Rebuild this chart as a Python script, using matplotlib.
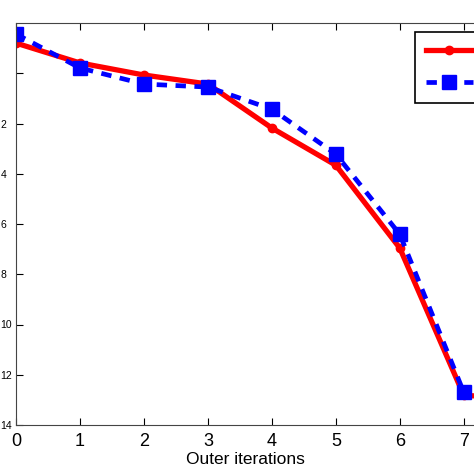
import matplotlib
matplotlib.use("Agg")
import matplotlib.pyplot as plt

plt.rcParams['font.family'] = ['Liberation Sans', 'DejaVu Sans']

# outer iteration index
iters = [0, 1, 2, 3, 4, 5, 6, 7, 8]
iters_b = [0, 1, 2, 3, 4, 5, 6, 7]
# log10 of the error
err_a = [1.20, 0.41, -0.07, -0.43, -2.18, -3.66, -6.96, -12.82, -12.95]
err_b = [1.56, 0.21, -0.43, -0.55, -1.43, -3.22, -6.41, -12.70]

yticks = [-14, -12, -10, -8, -6, -4, -2, 0]
ytick_labels = ['14', '12', '10', '8', '6', '4', '2', '']
xticks = [0, 1, 2, 3, 4, 5, 6, 7]

fig = plt.figure(figsize=(4.74, 4.74), dpi=100)
ax = fig.add_axes([16/474, 49/474, 1 - 16/474, (425 - 23)/474])

# legend text lies outside the visible crop, so keep it blank
ax.plot(iters, err_a, color='red', lw=3.8, marker='o', ms=6, label=' ')
ax.plot(iters_b, err_b, color='blue', lw=3.4, ls=(0, (2.2, 1.8)),
        marker='s', ms=10, label=' ')

ax.set_xlim(0, 7.16)
ax.set_ylim(-14, 2)
ax.set_xticks(xticks)
ax.set_yticks(yticks)
ax.set_yticklabels(ytick_labels)
ax.tick_params(axis='x', labelsize=13, direction='in', length=5, top=True, pad=6)
ax.tick_params(axis='y', labelsize=7.5, direction='in', length=5, pad=11.3)
for t in ax.get_yticklabels():
    t.set_horizontalalignment('left')
ax.spines['right'].set_visible(False)
for s in ['left', 'top', 'bottom']:
    ax.spines[s].set_color('#444444')
ax.set_xlabel('Outer iterations', fontsize=12.5, labelpad=1)

leg = fig.legend(loc='upper left', bbox_to_anchor=(415/474, 1 - 32/474),
                 borderaxespad=0, fontsize=13, handlelength=2.6,
                 borderpad=0.6, labelspacing=0.85, fancybox=False,
                 edgecolor='black', framealpha=1)
leg.get_frame().set_linewidth(1.2)

fig.savefig('out.png', dpi=100)
